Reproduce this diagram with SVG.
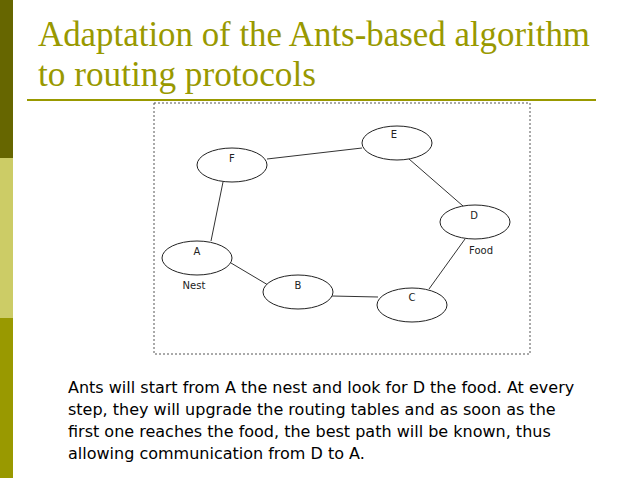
<svg xmlns="http://www.w3.org/2000/svg" width="638" height="478" viewBox="0 0 638 478">
<style>
.n{fill:#fff;stroke:#222;stroke-width:1}
.l{font-family:"DejaVu Sans",sans-serif;font-size:10px;fill:#222;text-anchor:middle}
.e{stroke:#333;stroke-width:1;fill:none}
.t{font-family:"Liberation Serif",serif;font-size:35px;fill:#999900}
.b{font-family:"DejaVu Sans",sans-serif;font-size:16px;fill:#000}
</style>
<rect width="638" height="478" fill="#fff"/>
<rect x="0" y="0" width="13" height="158" fill="#666600"/>
<rect x="0" y="158" width="13" height="160" fill="#cccc66"/>
<rect x="0" y="318" width="13" height="160" fill="#999900"/>
<text class="t" x="38" y="46" textLength="552" lengthAdjust="spacingAndGlyphs">Adaptation of  the Ants-based algorithm</text>
<text class="t" x="38" y="86" textLength="278" lengthAdjust="spacingAndGlyphs">to routing protocols</text>
<line x1="27" y1="100" x2="596" y2="100" stroke="#999900" stroke-width="2"/>
<rect x="154" y="103" width="376" height="251" fill="none" stroke="#555" stroke-width="1" stroke-dasharray="2,2"/>
<g id="edges">
<line class="e" x1="267" y1="159" x2="362" y2="148"/>
<line class="e" x1="409" y1="159" x2="463" y2="206"/>
<line class="e" x1="465" y1="239" x2="429" y2="289"/>
<line class="e" x1="332" y1="296" x2="378" y2="297"/>
<line class="e" x1="231" y1="263" x2="268" y2="285"/>
<line class="e" x1="223" y1="182" x2="211" y2="241"/>
</g>
<g id="E"><ellipse class="n" cx="397" cy="143" rx="35" ry="17"/><text class="l" x="394" y="138">E</text></g>
<g id="F"><ellipse class="n" cx="232" cy="165" rx="35" ry="17"/><text class="l" x="232" y="162">F</text></g>
<g id="D"><ellipse class="n" cx="475" cy="222" rx="35" ry="17"/><text class="l" x="474" y="219">D</text></g>
<g id="A"><ellipse class="n" cx="197" cy="258" rx="35" ry="17"/><text class="l" x="197" y="255">A</text><text class="l" x="194" y="289">Nest</text></g>
<g id="B"><ellipse class="n" cx="298" cy="292" rx="35" ry="17"/><text class="l" x="298" y="289">B</text></g>
<g id="C"><ellipse class="n" cx="412" cy="305" rx="35" ry="17"/><text class="l" x="412" y="301">C</text></g>
<text class="l" x="481" y="254">Food</text>
<text class="b" x="68" y="393">Ants will start from A the nest and look for D the food. At every</text>
<text class="b" x="68" y="415">step, they will upgrade the routing tables and as soon as the</text>
<text class="b" x="68" y="437">first one reaches the food, the best path will be known, thus</text>
<text class="b" x="68" y="459">allowing communication from D to A.</text>
</svg>
